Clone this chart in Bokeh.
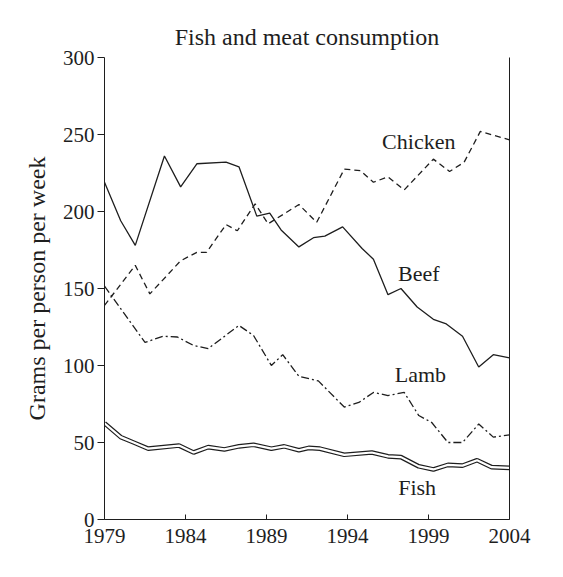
from bokeh.plotting import figure
from bokeh.models import LinearAxis, FixedTicker, Label, Range1d
from bokeh.embed import file_html
from bokeh.resources import INLINE

# ---- data ----
title_text = "Fish and meat consumption"
y_label = "Grams per person per week"
x_ticks = [1979, 1984, 1989, 1994, 1999, 2004]
y_ticks = [0, 50, 100, 150, 200, 250, 300]

beef_year = [1979.0, 1980.0, 1980.9, 1982.7, 1983.7, 1984.7, 1986.5, 1987.3, 1988.4,
             1989.2, 1989.9, 1991.0, 1991.9, 1992.6, 1993.7, 1994.9, 1995.6, 1996.5,
             1997.3, 1998.3, 1999.3, 2000.1, 2001.1, 2002.1, 2003.0, 2004.0]
beef = [219, 194, 178, 236, 216, 231, 232, 229, 197,
        199, 188, 177, 183, 184, 190, 176, 169, 146,
        150, 138, 130, 127, 119, 99, 107, 105]

chicken_year = [1979.0, 1980.9, 1981.8, 1983.7, 1984.7, 1985.3, 1986.5, 1987.2, 1988.3,
                1989.1, 1991.0, 1992.1, 1993.8, 1994.8, 1995.6, 1996.5, 1997.5, 1999.3,
                2000.3, 2001.2, 2002.2, 2004.0]
chicken = [139, 165, 146.5, 168, 173.5, 173.5, 191.5, 187.5, 205,
           192, 204.5, 193, 227.5, 226.5, 219, 222.5, 214, 234,
           226, 232, 252, 246.5]

lamb_year = [1979.0, 1981.5, 1982.6, 1983.5, 1984.5, 1985.4, 1987.3, 1988.2, 1989.3,
             1990.0, 1991.0, 1992.2, 1993.8, 1994.7, 1995.6, 1996.5, 1997.5, 1998.4,
             1999.2, 2000.2, 2001.1, 2002.1, 2003.0, 2004.0]
lamb = [151.5, 115, 119, 118.5, 113, 111, 126, 119.5, 100,
        107, 93, 90, 73, 76, 82.5, 80.5, 82.5, 67.5,
        63, 50, 50, 62, 53.5, 55]

fish_year = [1979.0, 1980.0, 1980.8, 1981.7, 1983.6, 1984.5, 1985.4, 1986.4, 1987.3,
             1988.2, 1989.3, 1990.1, 1991.0, 1991.6, 1992.3, 1993.8, 1995.5, 1996.5,
             1997.3, 1998.4, 1999.3, 2000.2, 2001.1, 2002.0, 2002.9, 2004.0]
fish = [62.5, 53.5, 50, 46, 48, 43.5, 47, 45.5, 47.5,
        48.5, 46, 47.5, 45, 46.5, 46, 42, 43.5, 41,
        40.5, 34.5, 32.5, 35.5, 35, 38.5, 34, 33.5]

series_labels = ["Chicken", "Beef", "Lamb", "Fish"]
label_x = [1998.4, 1998.4, 1998.5, 1998.3]
label_y = [245.3, 160, 94, 20.5]

# ---- styling ----
FONT = "Liberation Serif"
INK = "#1e1e1e"

p = figure(width=555, height=569, output_backend="svg", toolbar_location=None,
           x_range=Range1d(1979, 2004), y_range=Range1d(0, 300),
           min_border_left=104, min_border_right=46, min_border_top=57,
           min_border_bottom=50, title=title_text)

p.title.text_font = FONT
p.title.text_font_size = "24px"
p.title.text_font_style = "normal"
p.title.text_color = INK
p.title.align = "center"
p.title.offset = 8
p.title.standoff = 15

p.outline_line_color = None
p.xgrid.visible = False
p.ygrid.visible = False
p.background_fill_color = "white"
p.border_fill_color = "white"

xa = p.xaxis[0]
xa.ticker = FixedTicker(ticks=x_ticks)
xa.minor_tick_line_color = None
xa.major_tick_in = 5
xa.major_tick_out = 0
xa.major_label_standoff = 9
xa.major_label_text_font = FONT
xa.major_label_text_font_size = "21px"
xa.major_label_text_color = INK
xa.axis_line_color = INK
xa.major_tick_line_color = INK

ya = p.yaxis[0]
ya.ticker = FixedTicker(ticks=y_ticks)
ya.minor_tick_line_color = None
ya.major_tick_in = 0
ya.major_tick_out = 7
ya.major_label_standoff = 3
ya.major_label_text_font = FONT
ya.major_label_text_font_size = "21px"
ya.major_label_text_color = INK
ya.axis_line_color = INK
ya.major_tick_line_color = INK
ya.axis_label = y_label
ya.axis_label_text_font = FONT
ya.axis_label_text_font_size = "24px"
ya.axis_label_text_font_style = "normal"
ya.axis_label_text_color = INK
ya.axis_label_standoff = 10

right = LinearAxis(ticker=FixedTicker(ticks=[]), major_tick_in=0, major_tick_out=0,
                   minor_tick_line_color=None, major_label_text_font_size="0px",
                   axis_line_color=INK)
p.add_layout(right, "right")

# lines
p.line(beef_year, beef, line_color=INK, line_width=1.3)
p.line(chicken_year, chicken, line_color=INK, line_width=1.3, line_dash="6 4")
p.line(lamb_year, lamb, line_color=INK, line_width=1.3, line_dash="8 3 2 3")
p.line(fish_year, fish, line_color=INK, line_width=4.6)
p.line(fish_year, fish, line_color="white", line_width=2.2)

for t, lx, ly in zip(series_labels, label_x, label_y):
    p.add_layout(Label(x=lx, y=ly, text=t, text_font=FONT, text_font_size="22px",
                       text_color=INK, text_align="center", text_baseline="alphabetic"))

open("out.html", "w").write(file_html(p, INLINE))
